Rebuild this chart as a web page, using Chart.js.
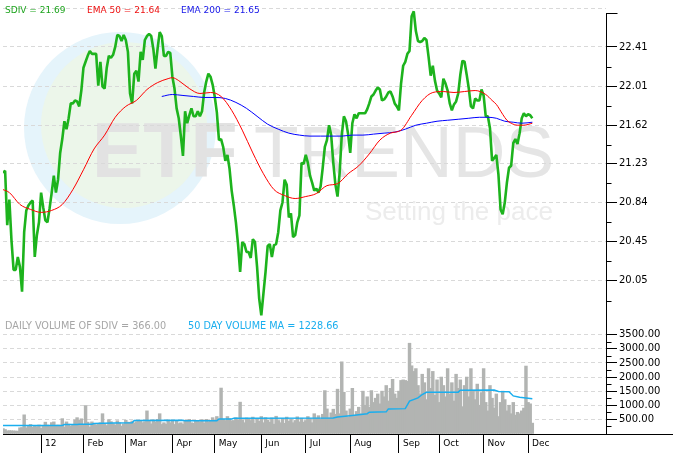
<!DOCTYPE html>
<html><head><meta charset="utf-8">
<script src="https://cdn.jsdelivr.net/npm/chart.js@4/dist/chart.umd.min.js"></script>
<style>html,body{margin:0;padding:0;background:#fff;}canvas{display:block;}</style>
</head><body>
<canvas id="c" width="680" height="461"></canvas>
<script>
// trading-day offsets relative to 3 Jan 2012; first bar is day -18
const firstDay = -18;
const price = [
21.14,21.16,20.61,20.87,20.46,20.16,20.16,20.29,20.19,19.94,
20.54,20.76,20.81,20.84,20.86,20.29,20.51,20.64,
20.94,20.79,20.66,20.64,20.78,20.94,21.11,20.94,21.07,21.34,
21.48,21.66,21.58,21.69,21.84,21.84,21.87,21.86,21.81,21.97,
22.20,22.26,22.32,22.37,22.34,22.34,22.34,22.02,22.26,22.01,
21.99,22.20,22.32,22.30,22.33,22.41,22.53,22.52,22.47,22.53,
22.48,22.36,21.94,21.84,22.14,22.17,22.06,22.36,22.28,22.48,
22.52,22.54,22.52,22.39,22.19,22.39,22.56,22.52,22.32,22.32,
22.36,22.35,22.11,21.99,21.79,21.69,21.51,21.31,21.76,21.64,
21.72,21.79,21.71,21.71,21.76,21.71,21.76,21.95,22.06,22.14,
22.11,22.03,21.91,21.75,21.47,21.48,21.40,21.26,21.32,21.18,
20.96,20.81,20.64,20.42,20.14,20.44,20.42,20.34,20.34,20.28,
20.47,20.44,20.19,19.87,19.70,19.92,20.14,20.40,20.42,20.29,
20.41,20.42,20.54,20.76,20.84,21.07,21.02,20.69,20.73,20.49,
20.51,20.64,20.71,21.24,21.23,21.32,21.24,21.11,21.04,20.96,
20.98,20.94,21.00,21.19,21.40,21.47,21.62,21.52,21.24,21.02,
20.90,21.14,21.52,21.71,21.66,21.53,21.34,21.64,21.73,21.69,
21.74,21.74,21.74,21.74,21.78,21.84,21.91,21.93,21.97,22.00,
21.98,21.87,21.88,21.91,21.95,21.96,21.91,21.84,21.81,21.77,
22.04,22.22,22.26,22.34,22.37,22.72,22.77,22.57,22.47,22.46,
22.47,22.50,22.48,22.31,22.12,22.22,22.07,21.97,21.94,21.90,
22.09,22.04,21.97,21.84,21.77,21.83,21.86,21.94,22.13,22.27,
22.26,22.13,21.99,21.81,21.79,21.89,21.87,21.87,21.98,21.92,
21.71,21.71,21.59,21.26,21.29,21.32,21.12,20.77,20.72,20.84,
21.04,21.19,21.21,21.44,21.48,21.43,21.54,21.69,21.74,21.71,
21.73,21.72,21.69];
const volume = [
175,140,90,100,95,90,85,80,200,210,
660,200,250,320,220,270,240,300,
180,260,400,300,250,385,410,290,300,280,
525,230,410,330,260,300,480,560,470,520,
300,990,400,230,410,350,300,320,380,700,
330,280,490,420,350,300,450,380,260,340,
470,400,390,440,370,420,460,450,380,420,
800,430,340,480,410,500,700,320,380,330,
480,380,430,320,460,350,380,330,470,430,
500,380,360,450,460,410,490,370,500,420,
460,560,450,600,500,1610,500,460,600,520,
450,460,560,480,1110,480,380,550,500,460,
580,360,530,430,600,380,560,480,400,550,
330,610,460,380,530,360,580,430,500,380,
460,590,410,540,400,460,600,530,380,700,
550,630,500,680,1520,870,550,730,860,680,
1570,700,2540,1460,800,580,870,1600,650,780,
930,700,1500,1000,1300,930,1520,1100,1250,1400,
1050,1500,1300,1700,1150,1600,1920,1400,1250,1500,
1880,1900,1880,1850,3200,2400,2200,2300,1700,1400,
2100,1800,1200,2300,1600,2200,1350,1900,1100,2000,
1700,1300,2300,1400,1800,1150,2100,1600,1900,950,
1700,2000,1300,2300,1500,1200,1750,1000,1450,2300,
1100,800,1700,1250,900,1400,600,1100,1500,1200,
800,1000,700,1100,650,750,700,800,900,2390,
1100,1050,366];
const ema50Days = [-18,-15,-10,-5,0,5,10,15,20,25,30,35,40,45,50,55,60,62,65,70,75,80,85,90,95,100,105,110,115,120,125,130,135,140,145,150,155,160,165,170,175,180,185,190,195,200,205,210,213,215,218,220,222,225,228,232];
const ema50 = [20.97,20.94,20.82,20.77,20.74,20.76,20.82,20.97,21.17,21.38,21.52,21.70,21.81,21.87,21.98,22.05,22.09,22.10,22.07,21.99,21.94,21.95,21.91,21.77,21.57,21.34,21.13,20.97,20.91,20.88,20.90,20.93,21.01,21.03,21.13,21.21,21.33,21.47,21.54,21.57,21.72,21.87,21.95,21.96,21.95,21.96,21.97,21.93,21.87,21.83,21.73,21.67,21.64,21.62,21.62,21.64];
const ema200Days = [57,62,67,72,77,82,87,92,97,102,107,112,117,122,127,132,137,142,147,152,157,162,167,172,177,182,187,192,197,202,207,211,215,219,223,227,232];
const ema200 = [21.91,21.93,21.92,21.91,21.90,21.90,21.89,21.85,21.79,21.71,21.63,21.58,21.54,21.52,21.51,21.51,21.51,21.51,21.52,21.52,21.53,21.54,21.55,21.58,21.62,21.64,21.66,21.67,21.68,21.69,21.70,21.70,21.69,21.66,21.65,21.64,21.65];
const volMaDays = [-18,10,11,17,18,24,25,34,43,44,67,68,83,84,90,91,138,140,147,154,155,163,164,172,174,178,180,182,197,198,214,216,221,223,226,232];
const volMa = [280,285,315,318,327,330,350,372,376,462,467,446,446,512,515,538,545,580,640,700,755,765,870,880,1150,1260,1380,1460,1465,1535,1540,1485,1480,1330,1280,1228.66];
const monthTicks = [0,20,40,62,82,104,125,146,169,188,209,230];
const monthLabels = ['12','Feb','Mar','Apr','May','Jun','Jul','Aug','Sep','Oct','Nov','Dec'];
const priceTicks = [20.05,20.45,20.84,21.23,21.62,22.01,22.41];
const volumeTicks = [500,1000,1500,2000,2500,3000,3500];
const volumeMinorTicks = [250,750,1250,1750,2250,2750,3250];

const FONT = '"DejaVu Sans", Verdana, sans-serif';
const pts = (days, vals) => vals.map((v, k) => ({x: days[k], y: v}));
const seqDays = arr => arr.map((_, k) => firstDay + k);
const last = a => a[a.length - 1];

const watermark = {
  id: 'watermark',
  beforeDraw(chart) {
    const c = chart.ctx;
    c.save();
    c.fillStyle = '#ffffff'; c.fillRect(0, 0, chart.width, chart.height);
    c.fillStyle = '#e5f4fb'; c.beginPath(); c.arc(120, 128, 96, 0, Math.PI * 2); c.fill();
    c.fillStyle = '#ecf6ea'; c.beginPath(); c.arc(124, 125, 83, 0, Math.PI * 2); c.fill();
    c.textAlign = 'left'; c.textBaseline = 'alphabetic';
    c.fillStyle = '#e2e2e2'; c.font = 'bold 77px "Liberation Sans", Arial, sans-serif';
    c.fillText('ETF', 92, 177);
    c.fillStyle = '#e5e5e5'; c.font = '73px "Liberation Sans", Arial, sans-serif';
    c.fillText('TRENDS', 254, 177);
    c.fillStyle = '#ececec'; c.font = '26px "Liberation Sans", Arial, sans-serif';
    c.fillText('Setting the pace', 365, 220);
    c.restore();
  }
};

const frame = {
  id: 'frame',
  afterDraw(chart) {
    const c = chart.ctx, a = chart.chartArea;
    const ys = chart.scales.y, yv = chart.scales.yv;
    c.save();
    c.strokeStyle = '#d9d9d9'; c.lineWidth = 1; c.setLineDash([4, 3]);
    c.beginPath(); c.moveTo(a.left, a.top + 0.5); c.lineTo(a.right, a.top + 0.5); c.stroke();
    c.setLineDash([]);
    c.strokeStyle = '#000';
    const ax = Math.round(a.right) + 0.5;
    c.beginPath();
    c.moveTo(ax, 13); c.lineTo(ax, a.bottom + 1);
    c.moveTo(a.left, Math.round(a.bottom) + 0.5); c.lineTo(673, Math.round(a.bottom) + 0.5);
    c.moveTo(ax, 13.5); c.lineTo(ax + 11, 13.5);
    const step = priceTicks[1] - priceTicks[0];
    const minors = [priceTicks[0] - step / 2];
    for (let k = 0; k < priceTicks.length - 1; k++) minors.push((priceTicks[k] + priceTicks[k + 1]) / 2);
    minors.forEach(v => { const y = Math.round(ys.getPixelForValue(v)) + 0.5; c.moveTo(ax, y); c.lineTo(ax + 5, y); });
    volumeMinorTicks.forEach(v => { const y = Math.round(yv.getPixelForValue(v)) + 0.5; c.moveTo(ax, y); c.lineTo(ax + 5, y); });
    c.stroke();
    c.textBaseline = 'middle'; c.textAlign = 'left';
    c.font = '9px ' + FONT;
    c.fillStyle = '#1ea41e'; c.fillText('SDIV = ' + last(price).toFixed(2), 5, 11);
    c.fillStyle = '#ee1111'; c.fillText('EMA 50 = ' + last(ema50).toFixed(2), 87, 11);
    c.fillStyle = '#1515e8'; c.fillText('EMA 200 = ' + last(ema200).toFixed(2), 181, 11);
    c.font = '9.7px ' + FONT;
    c.fillStyle = '#a6a6a6'; c.fillText('DAILY VOLUME OF SDIV = ' + last(volume).toFixed(2), 5, 326);
    c.fillStyle = '#1aaeee'; c.fillText('50 DAY VOLUME MA = ' + last(volMa).toFixed(2), 188, 326);
    c.restore();
  }
};

new Chart(document.getElementById('c'), {
  type: 'line',
  data: {
    datasets: [
      {type: 'bar', data: pts(seqDays(volume), volume), xAxisID: 'x', yAxisID: 'yv',
       backgroundColor: '#b2b4b2', borderWidth: 0, barThickness: 2.8, order: 5},
      {type: 'line', data: pts(volMaDays, volMa), xAxisID: 'x', yAxisID: 'yv',
       borderColor: '#1aaeee', borderWidth: 1.5, pointRadius: 0, tension: 0, order: 4},
      {type: 'line', data: pts(seqDays(price), price), xAxisID: 'x', yAxisID: 'y',
       borderColor: '#1db31d', borderWidth: 2.6, pointRadius: 0, tension: 0, borderJoinStyle: 'bevel', order: 3},
      {type: 'line', data: pts(ema200Days, ema200), xAxisID: 'x', yAxisID: 'y',
       borderColor: '#0000ff', borderWidth: 1, pointRadius: 0, cubicInterpolationMode: 'monotone', order: 2},
      {type: 'line', data: pts(ema50Days, ema50), xAxisID: 'x', yAxisID: 'y',
       borderColor: '#ff0000', borderWidth: 1, pointRadius: 0, cubicInterpolationMode: 'monotone', order: 1}
    ]
  },
  options: {
    responsive: false, animation: false, devicePixelRatio: 1, events: [],
    layout: {padding: {left: 3, top: 4, right: 0, bottom: 0}},
    plugins: {legend: {display: false}, tooltip: {enabled: false}, title: {display: false}},
    scales: {
      x: {
        type: 'linear', min: -18, max: 266.8, offset: false,
        afterBuildTicks: s => { s.ticks = monthTicks.map(v => ({value: v})); },
        afterFit: s => { s.height = 27; },
        grid: {display: true, offset: false, drawOnChartArea: false, drawTicks: true, tickLength: 19, tickColor: '#000', tickWidth: 1},
        border: {display: false},
        ticks: {autoSkip: false, maxRotation: 0, minRotation: 0, align: 'start', labelOffset: 4, padding: -15,
                color: '#000', font: {family: FONT, size: 9}, callback: (v, i) => monthLabels[i]}
      },
      y: {
        type: 'linear', position: 'right', stack: 'panels', stackWeight: 314, min: 19.663, max: 22.803,
        afterBuildTicks: s => { s.ticks = priceTicks.map(v => ({value: v})); },
        afterFit: s => { s.width = 74; },
        grid: {color: '#d9d9d9', lineWidth: 1, drawTicks: true, tickLength: 11, tickColor: '#000', tickWidth: 1},
        border: {display: false, dash: [4, 3]},
        ticks: {autoSkip: false, padding: 2, color: '#000', font: {family: FONT, size: 10}, callback: v => Number(v).toFixed(2)}
      },
      yv: {
        type: 'linear', position: 'right', stack: 'panels', stackWeight: 116, min: -20, max: 4056,
        afterBuildTicks: s => { s.ticks = volumeTicks.map(v => ({value: v})); },
        afterFit: s => { s.width = 74; },
        grid: {color: '#d9d9d9', lineWidth: 1, drawTicks: true, tickLength: 11, tickColor: '#000', tickWidth: 1},
        border: {display: false, dash: [4, 3]},
        ticks: {autoSkip: false, padding: 2, color: '#000', font: {family: FONT, size: 10}, callback: v => Number(v).toFixed(2)}
      }
    }
  },
  plugins: [watermark, frame]
});
</script>
</body></html>
